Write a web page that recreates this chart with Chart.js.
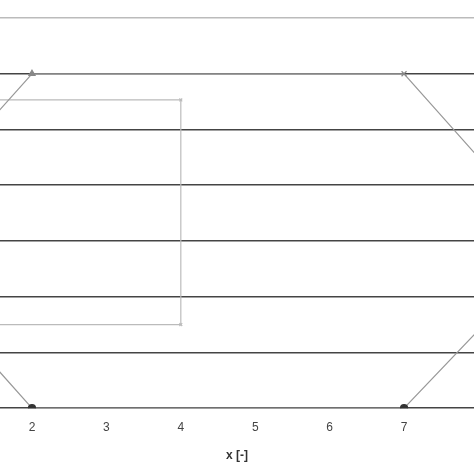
<!DOCTYPE html>
<html><head><meta charset="utf-8">
<script src="https://cdn.jsdelivr.net/npm/chart.js@4"></script>
<style>html,body{margin:0;background:#fff}#wrap{width:474px;height:474px}</style>
</head><body><div id="wrap"><canvas id="c"></canvas></div>
<script>
// outer envelope
const outerX = [1, 2, 7, 8, 8, 7, 2, 1, 1];
const outerY = [4.5, 6, 6, 4.5, 1.4, 0, 0, 1.5, 4.5];
// inner box
const innerX = [0, 4, 4, 0];
const innerY = [5.53, 5.53, 1.5, 1.5];
const xTicks = [2, 3, 4, 5, 6, 7];
const yTicks = [0, 1, 2, 3, 4, 5, 6, 7];

const pts = (xs, ys) => xs.map((x, i) => ({ x, y: ys[i] }));
const outerStyles = ['circle', 'triangle', 'crossRot', 'circle', 'circle', 'circle', 'circle', 'circle', 'circle'];

new Chart(document.getElementById("c"), {
  type: "scatter",
  data: {
    datasets: [{
      data: pts(outerX, outerY),
      showLine: true,
      borderColor: "#999",
      borderWidth: 1.2,
      pointStyle: outerStyles,
      pointRadius: [0, 3.5, 3.5, 0, 0, 3.5, 3.5, 0, 0],
      pointBackgroundColor: ["#555", "#888", "#888", "#555", "#555", "#333", "#333", "#555", "#555"],
      pointBorderColor: ["#555", "#888", "#888", "#555", "#555", "#333", "#333", "#555", "#555"]
    }, {
      data: pts(innerX, innerY),
      showLine: true,
      borderColor: "#bbb",
      borderWidth: 1.2,
      pointRadius: [0, 2, 2, 0],
      pointStyle: "crossRot",
      pointBorderColor: "#bbb"
    }]
  },
  options: {
    responsive: true,
    maintainAspectRatio: false,
    animation: false,
    layout: { padding: { top: 18, left: 0, right: 0, bottom: 7 } },
    plugins: { legend: { display: false }, tooltip: { enabled: false } },
    scales: {
      x: {
        type: "linear", min: 1.57, max: 7.94,
        afterBuildTicks: (ax) => { ax.ticks = xTicks.map(v => ({ value: v })); },
        grid: { display: false },
        border: { display: false },
        ticks: { color: "#444", font: { family: "Liberation Sans", size: 12 }, padding: 4 },
        title: { display: true, text: "x [-]", color: "#333", font: { family: "Liberation Sans", size: 12, weight: "bold" }, padding: { top: 10 } }
      },
      y: {
        min: 0, max: 7,
        afterBuildTicks: (ax) => { ax.ticks = yTicks.map(v => ({ value: v })); },
        display: true,
        ticks: { display: false },
        border: { display: false },
        grid: {
          drawTicks: false,
          color: (c) => c.tick && c.tick.value === 7 ? "#bbb" : "#444",
          lineWidth: 1.5
        }
      }
    }
  }
});
</script></body></html>
